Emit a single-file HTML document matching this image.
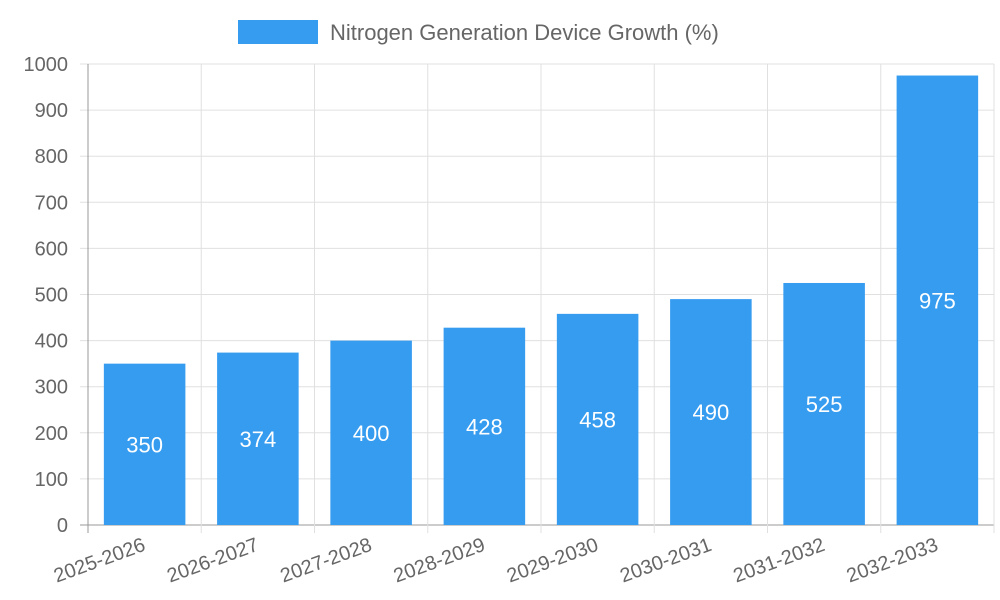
<!DOCTYPE html>
<html><head><meta charset="utf-8"><style>
body{margin:0;background:#fff;}
svg{display:block;font-family:"Liberation Sans",sans-serif;}
</style></head><body>
<svg id="chart" width="1000" height="600">
<g id="legend">
<rect x="238" y="20" width="80" height="24" fill="#369cf0"></rect>
<text x="330" y="40" font-size="22" fill="#666">Nitrogen Generation Device Growth (%)</text>
</g>
<g id="grid"></g><g id="bars"></g><g id="labels"></g>
</svg>
<script>
const categories=["2025-2026","2026-2027","2027-2028","2028-2029","2029-2030","2030-2031","2031-2032","2032-2033"];
const values=[350,374,400,428,458,490,525,975];
const yTicks=[0,100,200,300,400,500,600,700,800,900,1000];
const NS="http://www.w3.org/2000/svg";
const L=88,R=994,T=64,B=525,yMax=1000;
const bw=(R-L)/categories.length;
function y(v){return B-(v/yMax)*(B-T);}
function x(i){return L+bw*i;}
function mk(tag,attrs,parent,txt){const e=document.createElementNS(NS,tag);for(const k in attrs)e.setAttribute(k,attrs[k]);if(txt!==undefined)e.textContent=txt;document.getElementById(parent).appendChild(e);return e;}
yTicks.forEach(t=>{
 const g=mk("line",{x1:80,x2:R,y1:y(t),y2:y(t),stroke:t===0?"#999":"#e0e0e0","stroke-width":1},"grid");
 
 
 const lb=mk("text",{x:68,y:y(t)+7,"text-anchor":"end","font-size":20,fill:"#666"},"labels",t);
 
 
});
for(let i=0;i<=categories.length;i++){
 const g=mk("line",{x1:x(i),x2:x(i),y1:T,y2:533,stroke:i===0?"#999":"#e0e0e0","stroke-width":1},"grid");
 
 
}
categories.forEach((c,i)=>{
 const cx=x(i)+bw/2,w=bw*0.72,v=values[i];
 const r=mk("rect",{x:cx-w/2,y:y(v),width:w,height:B-y(v),fill:"#369cf0"},"bars");
 
 
 const vl=mk("text",{x:cx,y:(y(v)+B)/2+8,"text-anchor":"middle","font-size":22,fill:"#fff"},"labels",v);
 
 
 const xl=mk("text",{x:cx+2,y:550,"text-anchor":"end","font-size":20,fill:"#666",transform:"rotate(-20 "+(cx+2)+" 550)"},"labels",c);
 
 
});
</script>
</body></html>
